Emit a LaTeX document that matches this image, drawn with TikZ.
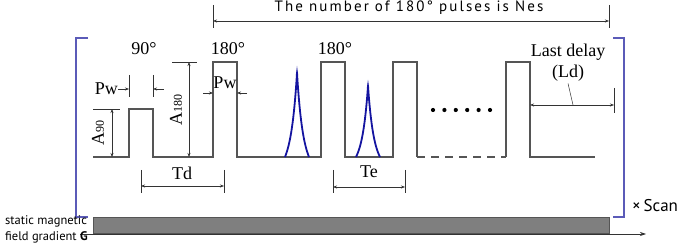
\documentclass[tikz,border=0pt]{standalone}
\usepackage{fontspec}
\setmainfont{Liberation Serif}
\newfontfamily\sansf{PT Sans}
\newfontfamily\sanswide[LetterSpace=14]{PT Sans}
\usetikzlibrary{arrows.meta}
\definecolor{pulsegray}{HTML}{555555}
\definecolor{echoblue}{HTML}{1414A0}
\definecolor{brackblue}{HTML}{5B5BB8}
\definecolor{bargray}{HTML}{7F7F7F}
\tikzset{
  pulse/.style={draw=pulsegray, line width=1.1pt, line join=miter},
  dimline/.style={draw=black!80, line width=0.5pt},
  dimarrow/.style={draw=black!80, line width=0.5pt, {Stealth[length=4pt,width=3pt]}-{Stealth[length=4pt,width=3pt]}},
  onearrow/.style={draw=black!80, line width=0.5pt, -{Stealth[length=4pt,width=3pt]}},
  echo/.style={draw=echoblue, line width=1.8pt},
  brack/.style={draw=brackblue, line width=1.1pt},
  serif/.style={font=\fontsize{18}{20}\selectfont, inner sep=0pt},
}
\begin{document}
\begin{tikzpicture}[x=1pt,y=-1pt]
\useasboundingbox (0,0) rectangle (685,245);
% key coordinates
\coordinate (b0) at (93,157);
\coordinate (bend) at (595,157);
% pulse train
\draw[pulse] (b0) -- (129,157) -- (129,109) -- (153,109) -- (153,157)
  -- (213,157) -- (213,62) -- (237,62) -- (237,157)
  -- (321,157) -- (321,62) -- (345,62) -- (345,157)
  -- (393,157) -- (393,62) -- (417,62) -- (417,157) coordinate (dashA);
\coordinate (dashB) at (506,157);
\draw[pulse, dash pattern=on 8pt off 6pt] (dashA) -- (dashB);
\draw[pulse] (dashB) -- (506,62) -- (530,62) -- (530,157) -- (bend);
% echoes
\draw[echo] plot[domain=-12:12, samples=61, smooth] ({297+\x},{157-84*exp(-abs(\x)/5.5)+84*exp(-12/5.5)*abs(\x)/12});
\draw[echo] plot[domain=-12:12, samples=61, smooth] ({368+\x},{157-71*exp(-abs(\x)/5.3)+71*exp(-12/5.3)*abs(\x)/12});
% dots
\foreach \i in {0,...,5} \fill (433+11.4*\i,110) circle (2.1pt);
% labels of pulses
\node[serif] (l90) at (144,49) {90°};
\node[serif] (l180a) at (228,49) {180°};
\node[serif] (l180b) at (335,49) {180°};
% A90
\coordinate (a90t) at (112,109);
\coordinate (a90b) at (112,157);
\draw[dimline] (93,109) coordinate (a90l) -- (120,109) coordinate (a90r);
\draw[dimarrow] (a90t) -- (a90b);
\node[serif, rotate=90] (A90) at (98,133) {A\fontsize{12}{14}\selectfont 90};
% A180
\coordinate (a180t) at (189,62);
\coordinate (a180b) at (189,157);
\draw[dimline] (172,62) coordinate (a180l) -- (197,62) coordinate (a180r);
\draw[dimarrow] (a180t) -- (a180b);
\node[serif, rotate=90] (A180) at (176,110) {A\fontsize{12}{14}\selectfont 180};
% Pw 90
\draw[dimline] (129,75) coordinate (pw1t) -- (129,97) coordinate (pw1b);
\draw[dimline] (153,75) coordinate (pw2t) -- (153,97) coordinate (pw2b);
\node[serif, anchor=east] (pwa) at (118,89) {Pw};
\coordinate (pwa1) at (129,89);
\coordinate (pwa2) at (164,89);
\coordinate (pwa3) at (153,89);
\draw[onearrow] (pwa.east) -- (pwa1);
\draw[onearrow] (pwa2) -- (pwa3);
% Pw 180
\node[serif] (pwb) at (225,83) {Pw};
\coordinate (pwb1) at (203,93);
\coordinate (pwb2) at (213,93);
\coordinate (pwb3) at (247,93);
\coordinate (pwb4) at (237,93);
\draw[onearrow] (pwb1) -- (pwb2);
\draw[onearrow] (pwb3) -- (pwb4);
% Td
\draw[dimline] (141,170) coordinate (td1t) -- (141,193);
\draw[dimline] (224,170) coordinate (td2t) -- (224,193);
\coordinate (td1) at (141,186);
\coordinate (td2) at (224,186);
\draw[dimarrow] (td1) -- (td2);
\node[serif] (Td) at (182,173) {Td};
% Te
\draw[dimline] (333,170) coordinate (te1t) -- (333,193);
\draw[dimline] (405,170) coordinate (te2t) -- (405,193);
\coordinate (te1) at (333,187);
\coordinate (te2) at (405,187);
\draw[dimarrow] (te1) -- (te2);
\node[serif] (Te) at (369,172) {Te};
% Last delay
\draw[dimline] (614,88) coordinate (ldt) -- (614,113);
\coordinate (ld1) at (530,105);
\coordinate (ld2) at (614,105);
\draw[dimarrow] (ld1) -- (ld2);
\node[serif] (ldl) at (568,52) {Last delay};
\node[serif] (ldl2) at (568,73) {(Ld)};
\coordinate (ldm) at (573,105);
\draw[dimline] (ldm) -- ([yshift=-2pt]ldl2.south);
% top Nes arrow
\draw[dimline] (213,5) coordinate (n1t) -- (213,28);
\draw[dimline] (609,5) coordinate (n2t) -- (609,28);
\coordinate (n1) at (213,21);
\coordinate (n2) at (609,21);
\draw[dimarrow] (n1) -- (n2);
\node[font=\sanswide\fontsize{15}{17}\selectfont, inner sep=0pt] (nes) at (409,8) {The number of 180° pulses is Nes};
% brackets
\draw[brack] (88,38) -- (76,38) -- (76,217) -- (88,217);
\draw[brack] (613,38) -- (624,38) -- (624,217) -- (613,217);
\node[font=\sansf\fontsize{17}{19}\selectfont, inner sep=0pt, anchor=west] (scan) at (632,206) {×\,Scan};
% gradient bar
\draw[draw=pulsegray, fill=bargray, line width=0.6pt] (93,217) rectangle (609,233);
\coordinate (ax0) at (80,234);
\coordinate (ax1) at (646,234);
\draw[draw=black!80, line width=0.7pt, -{Stealth[length=6pt,width=4pt]}] (ax0) -- (ax1);
\node[font=\sansf\fontsize{12.5}{14}\selectfont, inner sep=0pt, anchor=base west] (g1) at (5,225) {static magnetic};
\node[font=\sansf\fontsize{12.5}{14}\selectfont, inner sep=0pt, anchor=base west] (g2) at (5,241) {field gradient \textbf{G}};
\end{tikzpicture}
\end{document}
